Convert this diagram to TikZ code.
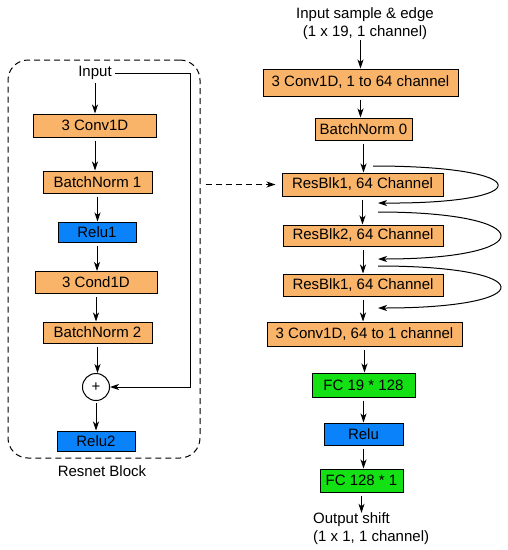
\documentclass[tikz,border=0pt]{standalone}
\usepackage{fontspec}
\setmainfont{Liberation Sans}
\usetikzlibrary{arrows.meta}
\definecolor{boxorange}{RGB}{250,180,105}
\definecolor{boxblue}{RGB}{10,130,250}
\definecolor{boxgreen}{RGB}{20,225,20}
\begin{document}
\begin{tikzpicture}[x=1pt,y=-1pt,
  every node/.style={font=\fontsize{15}{18}\selectfont, inner sep=0pt},
  blk/.style={draw=black, line width=1pt, minimum height=22pt},
  ob/.style={blk, fill=boxorange},
  bb/.style={blk, fill=boxblue},
  gb/.style={blk, fill=boxgreen},
  arr/.style={-{Stealth[length=9pt,width=6pt,inset=2.5pt]}, line width=1pt},
  lbl/.style={align=center}
]
\useasboundingbox (0,0) rectangle (508,550);
% left: resnet block
\node[draw, dashed, dash pattern=on 6pt off 4pt, line width=1pt, rounded corners=20pt,
      minimum width=192pt, minimum height=398pt] (rbk) at (104,259) {};
\node[lbl] (inp) at (95,73) {Input};
\node[ob, minimum width=123pt, minimum height=23pt] (c1) at (95,125.5) {3 Conv1D};
\node[ob, minimum width=109pt] (bn1) at (97.5,182) {BatchNorm 1};
\node[bb, minimum width=78pt, minimum height=20pt] (r1) at (97,232) {Relu1};
\node[ob, minimum width=122pt] (c2) at (96,282.5) {3 Cond1D};
\node[ob, minimum width=109pt, minimum height=21pt] (bn2) at (97.5,332.5) {BatchNorm 2};
\node[circle, draw, line width=1pt, minimum size=27pt] (plus) at (96,387) {+};
\node[bb, minimum width=78pt, minimum height=20pt] (r2) at (96,441) {Relu2};
\node (rbl) at (102,471) {Resnet Block};
\draw[arr, shorten <=3pt] (inp.south) -- (inp.south |- c1.north);
\draw[arr, shorten <=3pt] (c1.south) -- (c1.south |- bn1.north);
\draw[arr, shorten <=3pt] (bn1.south) -- (bn1.south |- r1.north);
\draw[arr, shorten <=3pt] (r1.south) -- (r1.south |- c2.north);
\draw[arr, shorten <=3pt] (c2.south) -- (c2.south |- bn2.north);
\draw[arr, shorten <=3pt] (bn2.south) -- (bn2.south |- plus.north);
\draw[arr, shorten <=2pt] (plus.south) -- (plus.south |- r2.north);
\coordinate (k1) at (190,73);
\coordinate (k2) at (190,387);
\draw[arr, shorten <=3pt] (inp.east) -- (k1) -- (k2) -- (plus.east);
% right: network
\node[lbl] (ins) at (365,24) {Input sample \& edge\\(1 x 19, 1 channel)};
\node[ob, minimum width=195pt, minimum height=27pt] (cv0) at (360.5,82.5) {3 Conv1D, 1 to 64 channel};
\node[ob, minimum width=97pt] (bn0) at (363.5,129) {BatchNorm 0};
\node[ob, minimum width=161pt, minimum height=23pt] (rb1) at (362.5,184.5) {ResBlk1, 64 Channel};
\node[ob, minimum width=160pt, minimum height=21pt] (rb2) at (363,235.5) {ResBlk2, 64 Channel};
\node[ob, minimum width=160pt, minimum height=22pt] (rb3) at (363,285) {ResBlk1, 64 Channel};
\node[ob, minimum width=195pt, minimum height=24pt] (cv1) at (364.5,334) {3 Conv1D, 64 to 1 channel};
\node[gb, minimum width=103pt, minimum height=24pt] (fc1) at (363.5,385) {FC 19 * 128};
\node[bb, minimum width=79pt, minimum height=22pt] (relu) at (363.5,434) {Relu};
\node[gb, minimum width=83pt, minimum height=23pt] (fc2) at (361.5,480.5) {FC 128 * 1};
\node[align=left, anchor=west] (out) at (313,529) {Output shift\\(1 x 1, 1 channel)};
\draw[arr] (cv0.north |- ins.south) -- (cv0.north);
\draw[arr, shorten <=3pt] (cv0.south) -- (cv0.south |- bn0.north);
\draw[arr, shorten <=3pt] (bn0.south) -- (bn0.south |- rb1.north);
\draw[arr, shorten <=3pt] (rb1.south) -- (rb1.south |- rb2.north);
\draw[arr, shorten <=3pt] (rb2.south) -- (rb2.south |- rb3.north);
\draw[arr, shorten <=3pt] (rb3.south) -- (rb3.south |- cv1.north);
\draw[arr, shorten <=3pt] (cv1.south) -- (cv1.south |- fc1.north);
\draw[arr, shorten <=3pt] (fc1.south) -- (fc1.south |- relu.north);
\draw[arr, shorten <=3pt] (relu.south) -- (relu.south |- fc2.north);
\draw[arr, shorten <=3pt] (fc2.south) -- (fc2.south |- out.north);
% skip curves
\coordinate (a1) at (373,166); \coordinate (a2) at (378,203);
\coordinate (b1) at (378,212); \coordinate (b2) at (378,259);
\coordinate (d1) at (378,266); \coordinate (d2) at (378,308);
\draw[arr] (a1) .. controls (538,166) and (538,204) .. (a2);
\draw[arr] (b1) .. controls (541,212) and (541,259) .. (b2);
\draw[arr] (d1) .. controls (541,266) and (541,308) .. (d2);
% link
\draw[arr, dashed, dash pattern=on 6pt off 4pt, shorten <=5pt, shorten >=6pt] (rbk.east |- rb1.west) -- (rb1.west);
\end{tikzpicture}
\end{document}
